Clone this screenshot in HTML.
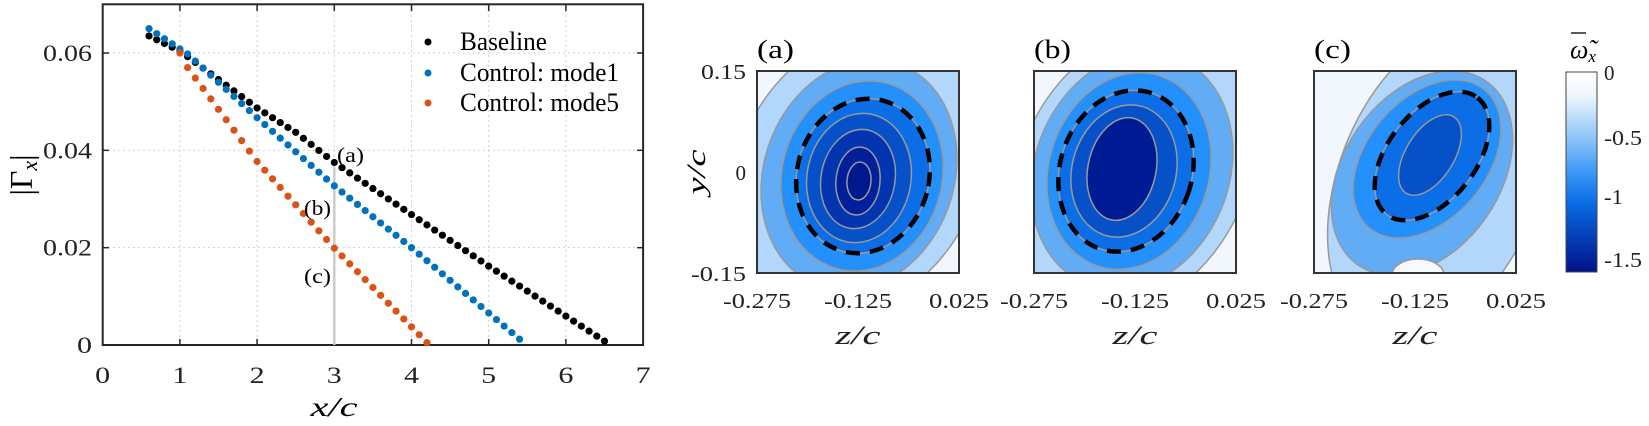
<!DOCTYPE html>
<html><head><meta charset="utf-8"><style>
html,body{margin:0;padding:0;background:#fff;}
svg{display:block;font-family:"Liberation Serif",serif;}
</style></head><body>
<svg id="s" width="1649" height="426" viewBox="0 0 1649 426" xmlns="http://www.w3.org/2000/svg">
<defs>
<clipPath id="cp"><rect x="0" y="0" width="202" height="202"/></clipPath>
<linearGradient id="cb" x1="0" y1="0" x2="0" y2="1">
<stop offset="0" stop-color="#ffffff"/>
<stop offset="0.12" stop-color="#eef5fd"/>
<stop offset="0.3" stop-color="#9ccbf8"/>
<stop offset="0.5" stop-color="#3d98f8"/>
<stop offset="0.65" stop-color="#0a6ee6"/>
<stop offset="0.82" stop-color="#0440b8"/>
<stop offset="1" stop-color="#00128a"/>
</linearGradient>
</defs>
<g id="grid" stroke="#d0d0d0" stroke-width="1" stroke-dasharray="2,3"></g>
<rect x="102.7" y="4.3" width="540.4" height="340.7" fill="none" stroke="#262626" stroke-width="2"/>
<g id="ticks" stroke="#262626" stroke-width="1.5"></g>
<line x1="334.3" y1="345" x2="334.3" y2="167" stroke="#cccccc" stroke-width="2.5"/>
<g id="pts"></g>
<g font-size="23" fill="#222" id="tl"></g>
<text x="334" y="416" font-size="27" font-style="italic" text-anchor="middle" textLength="47" lengthAdjust="spacingAndGlyphs">x/c</text>
<text transform="translate(32,175) rotate(-90)" font-size="32" text-anchor="middle">|Γ<tspan font-style="italic" font-size="22" dy="5">x</tspan><tspan dy="-5">|</tspan></text>
<text x="337" y="162" font-size="21" textLength="27" lengthAdjust="spacingAndGlyphs">(a)</text>
<text x="304" y="215" font-size="21" textLength="27" lengthAdjust="spacingAndGlyphs">(b)</text>
<text x="304" y="283" font-size="21" textLength="27" lengthAdjust="spacingAndGlyphs">(c)</text>
<g font-size="26">
<circle cx="428" cy="42" r="3.5" fill="#000"/><text x="460" y="50" textLength="87" lengthAdjust="spacingAndGlyphs">Baseline</text>
<circle cx="428" cy="73" r="3.5" fill="#0072bd"/><text x="460" y="81" textLength="159" lengthAdjust="spacingAndGlyphs">Control: mode1</text>
<circle cx="428" cy="103" r="3.5" fill="#d95319"/><text x="460" y="111" textLength="159" lengthAdjust="spacingAndGlyphs">Control: mode5</text>
</g>

<g transform="translate(757,71)">
<g clip-path="url(#cp)">
<rect width="202" height="202" fill="#f2f7fd"/>
<g stroke="#999" stroke-width="1.5">
<ellipse cx="101" cy="101" rx="118" ry="150" transform="rotate(30 101 101)" fill="#b3d6fb"/>
<ellipse cx="102" cy="104" rx="95" ry="118" transform="rotate(20 102 104)" fill="#62abf5"/>
<ellipse cx="105" cy="105" rx="80" ry="96" transform="rotate(15 105 105)" fill="#2390fc"/>
<ellipse cx="106" cy="105" rx="66" ry="78" transform="rotate(15 106 105)" fill="#0c6ee6"/>
<ellipse cx="102" cy="107" rx="52" ry="65" transform="rotate(10 102 107)" fill="#0650c8"/>
<ellipse cx="101" cy="108" rx="37" ry="50" transform="rotate(10 101 108)" fill="#0435b0"/>
<ellipse cx="101" cy="110" rx="22" ry="34" transform="rotate(5 101 110)" fill="#001f98"/>
<ellipse cx="102" cy="110" rx="12" ry="19" transform="rotate(5 102 110)" fill="#00188e"/>
</g>
<ellipse cx="106" cy="105" rx="66" ry="78" transform="rotate(15 106 105)" fill="none" stroke="#000" stroke-width="4.5" stroke-dasharray="14,10"/>
</g>
<rect width="202" height="202" fill="none" stroke="#333" stroke-width="2"/>
</g>
<g transform="translate(1034,71)">
<g clip-path="url(#cp)">
<rect width="202" height="202" fill="#f2f7fd"/>
<g stroke="#999" stroke-width="1.5">
<ellipse cx="100" cy="100" rx="112" ry="150" transform="rotate(28 100 100)" fill="#b3d6fb"/>
<ellipse cx="98" cy="100" rx="97" ry="122" transform="rotate(22 98 100)" fill="#62abf5"/>
<ellipse cx="95" cy="100" rx="80" ry="100" transform="rotate(18 95 100)" fill="#2390fc"/>
<ellipse cx="92" cy="100" rx="66" ry="82" transform="rotate(18 92 100)" fill="#0c6ee6"/>
<ellipse cx="90" cy="100" rx="52" ry="67" transform="rotate(15 90 100)" fill="#0650c8"/>
<ellipse cx="88" cy="98" rx="34" ry="52" transform="rotate(12 88 98)" fill="#001c94"/>
</g>
<ellipse cx="92" cy="100" rx="66" ry="82" transform="rotate(18 92 100)" fill="none" stroke="#000" stroke-width="4.5" stroke-dasharray="14,10"/>
</g>
<rect width="202" height="202" fill="none" stroke="#333" stroke-width="2"/>
</g>
<g transform="translate(1314,71)">
<g clip-path="url(#cp)">
<rect width="202" height="202" fill="#f2f7fd"/>
<g stroke="#999" stroke-width="1.5">
<ellipse cx="125" cy="110" rx="165" ry="100" transform="rotate(-68 125 110)" fill="#b3d6fb"/>
<ellipse cx="108" cy="102" rx="112" ry="78" transform="rotate(-55 108 102)" fill="#62abf5"/>
<ellipse cx="113" cy="88" rx="90" ry="60" transform="rotate(-50 113 88)" fill="#2390fc"/>
<ellipse cx="118" cy="85" rx="74" ry="44" transform="rotate(-52 118 85)" fill="#0c6ee6"/>
<ellipse cx="116" cy="84" rx="45" ry="24" transform="rotate(-58 116 84)" fill="#0650c8"/>
<ellipse cx="104" cy="204" rx="26" ry="16" fill="#f6f9fe"/>
</g>
<ellipse cx="118" cy="85" rx="74" ry="44" transform="rotate(-52 118 85)" fill="none" stroke="#000" stroke-width="4.5" stroke-dasharray="14,10"/>
</g>
<rect width="202" height="202" fill="none" stroke="#333" stroke-width="2"/>
</g>
<g font-size="26">
<text x="757" y="58" textLength="37" lengthAdjust="spacingAndGlyphs">(a)</text><text x="1034" y="58" textLength="37" lengthAdjust="spacingAndGlyphs">(b)</text><text x="1314" y="58" textLength="37" lengthAdjust="spacingAndGlyphs">(c)</text>
</g>
<g font-size="21" fill="#222" text-anchor="end">
<text x="746" y="79" textLength="45" lengthAdjust="spacingAndGlyphs">0.15</text><text x="746" y="180">0</text><text x="746" y="281" textLength="55" lengthAdjust="spacingAndGlyphs">-0.15</text>
</g>
<g font-size="21" fill="#222" text-anchor="middle" id="zl"></g>
<text transform="translate(705,172) rotate(-90)" font-size="26" font-style="italic" text-anchor="middle" textLength="45" lengthAdjust="spacingAndGlyphs">y/c</text>
<rect x="1566" y="72" width="31" height="200" fill="url(#cb)" stroke="#444" stroke-width="1"/>
<g font-size="21" fill="#222">
<text x="1604" y="80">0</text><text x="1604" y="145" textLength="38" lengthAdjust="spacingAndGlyphs">-0.5</text><text x="1604" y="204" textLength="19" lengthAdjust="spacingAndGlyphs">-1</text><text x="1604" y="267" textLength="38" lengthAdjust="spacingAndGlyphs">-1.5</text>
</g>
<text x="1570" y="58" font-size="26" font-style="italic">ω̃<tspan font-size="17" dy="4">x</tspan></text>
<line x1="1571" y1="33" x2="1586" y2="33" stroke="#222" stroke-width="1.5"/>
</svg>
<script>
var NS="http://www.w3.org/2000/svg";
function el(p,t,a,txt){var e=document.createElementNS(NS,t);for(var k in a)e.setAttribute(k,a[k]);if(txt!==undefined)e.textContent=txt;document.getElementById(p).appendChild(e);}
function X(x){return 102.7+77.2*x;}function Y(v){return 345-v*4867;}
for(var i=1;i<=6;i++){el("grid","line",{x1:X(i),x2:X(i),y1:5,y2:345});el("ticks","line",{x1:X(i),x2:X(i),y1:345,y2:339});el("ticks","line",{x1:X(i),x2:X(i),y1:5,y2:11});}
[0.02,0.04,0.06].forEach(function(v){el("grid","line",{x1:103,x2:643,y1:Y(v),y2:Y(v)});el("ticks","line",{x1:103,x2:109,y1:Y(v),y2:Y(v)});el("ticks","line",{x1:643,x2:637,y1:Y(v),y2:Y(v)});});
for(var i=0;i<=7;i++)el("tl","text",{x:X(i),y:383,"text-anchor":"middle",textLength:15,lengthAdjust:"spacingAndGlyphs"},""+i);
[[0,"0",15],[0.02,"0.02",49],[0.04,"0.04",49],[0.06,"0.06",49]].forEach(function(a){el("tl","text",{x:92,y:Y(a[0])+8,"text-anchor":"end",textLength:a[2],lengthAdjust:"spacingAndGlyphs"},a[1]);});
function interp(k,x){for(var i=0;i<k.length-1;i++){if(x<=k[i+1][0]+1e-9){var t=(x-k[i][0])/(k[i+1][0]-k[i][0]);return k[i][1]+t*(k[i+1][1]-k[i][1]);}}return k[k.length-1][1];}
function series(k,a,b,col){for(var n=Math.round(a*10);n<=Math.round(b*10);n++){var x=n/10;el("pts","circle",{cx:X(x),cy:Y(interp(k,x)),r:3.6,fill:col});}}
series([[0.6,0.0635],[1,0.0604],[2,0.0487],[2.5,0.0437],[3,0.0375],[4,0.0268],[5,0.0162],[6.5,0.0008]],0.6,6.5,"#000");
series([[0.6,0.065],[1.1,0.0598],[2,0.0467],[3,0.0327],[4,0.020],[5.4,0.0012]],0.6,5.4,"#0072bd");
series([[1.0,0.060],[1.1,0.057],[2,0.0377],[3,0.0199],[4.2,0.0005]],1.0,4.2,"#d95319");
[757,1034,1314].forEach(function(x0){
 [[0,"-0.275",68],[101,"-0.125",68],[202,"0.025",60]].forEach(function(a){el("zl","text",{x:x0+a[0],y:308,textLength:a[2],lengthAdjust:"spacingAndGlyphs"},a[1]);});
 el("zl","text",{x:x0+101,y:344,"font-size":26,"font-style":"italic",textLength:45,lengthAdjust:"spacingAndGlyphs"},"z/c");
 [0,101,202].forEach(function(d){el("ticks","line",{x1:x0+d,x2:x0+d,y1:273,y2:269});el("ticks","line",{x1:x0+d,x2:x0+d,y1:71,y2:75});});
 el("ticks","line",{x1:x0,x2:x0+4,y1:172,y2:172});el("ticks","line",{x1:x0+202,x2:x0+198,y1:172,y2:172});
});
</script>
</body></html>
